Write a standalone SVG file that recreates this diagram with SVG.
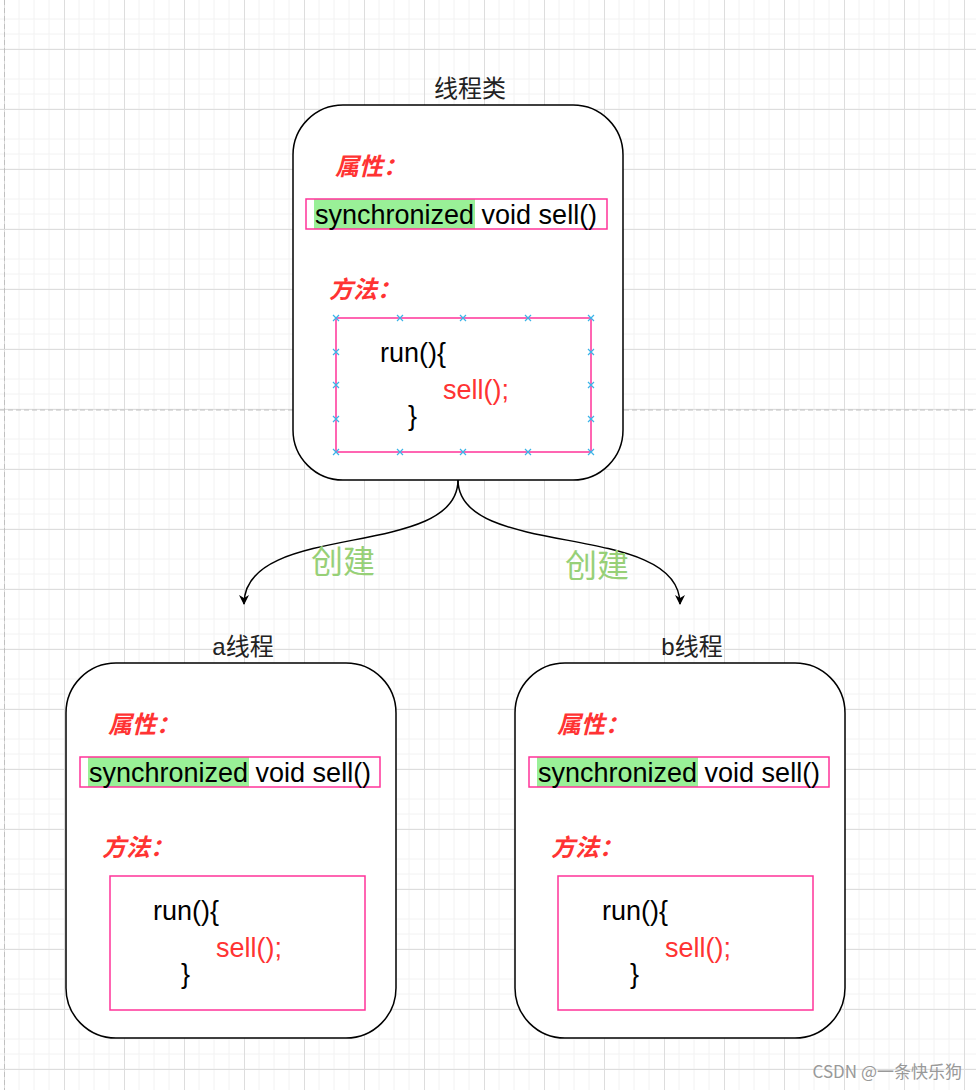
<svg xmlns="http://www.w3.org/2000/svg" width="976" height="1090" viewBox="0 0 976 1090">
<defs>
<pattern id="g" x="4" y="4" width="60" height="60" patternUnits="userSpaceOnUse">
<path d="M15 0V60M30 0V60M45 0V60M0 15H60M0 30H60M0 45H60" stroke="#f2f2f2" stroke-width="1" fill="none"/>
<path d="M0.5 0V60M0 45.5H60" stroke="#dddddd" stroke-width="1" fill="none"/>
</pattern>
<marker id="ar" viewBox="0 0 10 10" refX="9" refY="5" markerWidth="10" markerHeight="10" markerUnits="userSpaceOnUse" orient="auto"><path d="M0 0L10 5L0 10L3 5Z" fill="#000"/></marker>
<g id="cross"><path d="M-3 -3L3 3M-3 3L3 -3" stroke="#3bb4e8" stroke-width="1.2"/></g>
</defs>
<style>
.box{fill:#fff;stroke:#000;stroke-width:1.5}
.pk{fill:none;stroke:#ff3399;stroke-width:1.5}
.t{font-family:"Liberation Sans",Arial,sans-serif;font-size:27px;fill:#000}
.r{fill:#ff3333}
.lab{font-family:"Liberation Serif","Noto Sans CJK SC",serif;font-size:24px;font-style:italic;font-weight:bold;fill:#ff3333}
.ttl{font-family:"Liberation Sans","Noto Sans CJK SC",sans-serif;font-size:24px;fill:#222}
.cj{font-family:"Noto Sans CJK SC",sans-serif;font-size:32px;fill:#97d077}
</style>
<rect width="976" height="1090" fill="#fff"/>
<rect width="976" height="1090" fill="url(#g)"/>
<path d="M4.5 0V1090M0 410H976" stroke="#c0c0c0" stroke-dasharray="5 3" fill="none"/>
<g id="connectors">
<path d="M458 480C458 560 244 520 244 604" fill="none" stroke="#000" stroke-width="1.5" marker-end="url(#ar)"/>
<path d="M458 480C458 560 680 520 680 604" fill="none" stroke="#000" stroke-width="1.5" marker-end="url(#ar)"/>
<text class="cj" x="343" y="573" text-anchor="middle">创建</text>
<text class="cj" x="597" y="577" text-anchor="middle">创建</text>
</g>
<g id="node-main">
<text class="ttl" x="470" y="97" text-anchor="middle">线程类</text>
<rect class="box" x="293" y="105" width="330" height="375" rx="50"/>
<text class="lab" x="335" y="175">属性：</text>
<rect x="314" y="199" width="161" height="30" fill="#99f097"/>
<rect class="pk" x="306" y="199" width="301" height="30"/>
<text class="t" x="315" y="224">synchronized void sell()</text>
<text class="lab" x="329" y="298">方法：</text>
<rect class="pk" x="336" y="318" width="255" height="134"/>
<use href="#cross" x="336" y="318"/><use href="#cross" x="400" y="318"/><use href="#cross" x="463" y="318"/><use href="#cross" x="528" y="318"/><use href="#cross" x="591" y="318"/>
<use href="#cross" x="336" y="452"/><use href="#cross" x="400" y="452"/><use href="#cross" x="463" y="452"/><use href="#cross" x="528" y="452"/><use href="#cross" x="591" y="452"/>
<use href="#cross" x="336" y="352"/><use href="#cross" x="336" y="385"/><use href="#cross" x="336" y="419"/>
<use href="#cross" x="591" y="352"/><use href="#cross" x="591" y="385"/><use href="#cross" x="591" y="419"/>
<text class="t" x="380" y="362">run(){</text>
<text class="t r" x="443" y="399">sell();</text>
<text class="t" x="408" y="425">}</text>
</g>
<g id="node-a">
<text class="ttl" x="243" y="655" text-anchor="middle">a线程</text>
<rect class="box" x="66" y="663" width="330" height="375" rx="50"/>
<text class="lab" x="108" y="733">属性：</text>
<rect x="88" y="757" width="161" height="30" fill="#99f097"/>
<rect class="pk" x="80" y="757" width="300" height="30"/>
<text class="t" x="89" y="782">synchronized void sell()</text>
<text class="lab" x="102" y="856">方法：</text>
<rect class="pk" x="110" y="876" width="255" height="134"/>
<text class="t" x="153" y="920">run(){</text>
<text class="t r" x="216" y="957">sell();</text>
<text class="t" x="181" y="983">}</text>
</g>
<g id="node-b">
<text class="ttl" x="692" y="655" text-anchor="middle">b线程</text>
<rect class="box" x="515" y="663" width="330" height="375" rx="50"/>
<text class="lab" x="557" y="733">属性：</text>
<rect x="537" y="757" width="161" height="30" fill="#99f097"/>
<rect class="pk" x="529" y="757" width="300" height="30"/>
<text class="t" x="538" y="782">synchronized void sell()</text>
<text class="lab" x="551" y="856">方法：</text>
<rect class="pk" x="558" y="876" width="255" height="134"/>
<text class="t" x="602" y="920">run(){</text>
<text class="t r" x="665" y="957">sell();</text>
<text class="t" x="630" y="983">}</text>
</g>
<text x="962" y="1078" text-anchor="end" font-family="'Noto Sans CJK SC',sans-serif" font-size="17" fill="#999">CSDN @一条快乐狗</text>
</svg>
